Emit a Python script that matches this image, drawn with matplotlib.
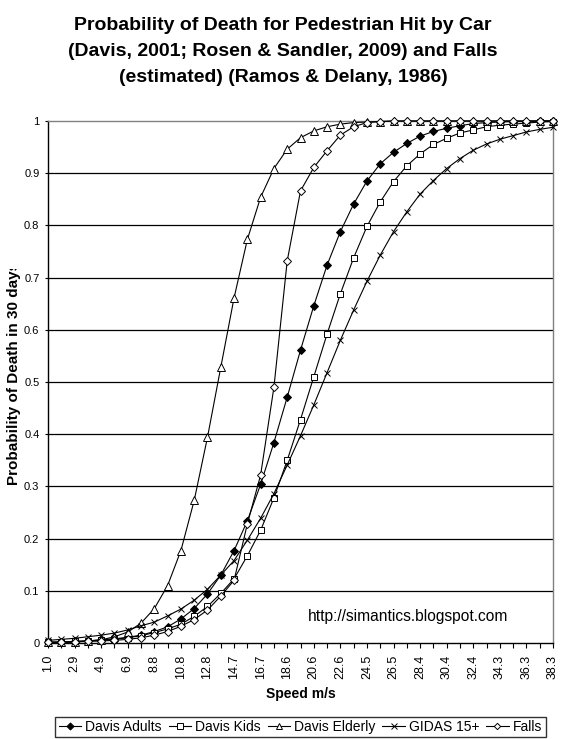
import matplotlib
matplotlib.use('Agg')
import matplotlib.pyplot as plt
from matplotlib.lines import Line2D
from matplotlib.transforms import Bbox

plt.rcParams['font.family'] = ['Liberation Sans', 'DejaVu Sans']

# ---------------- data ----------------
speed_labels = ["1.0", "2.0", "2.9", "3.9", "4.9", "5.9", "6.9", "7.8", "8.8", "9.8",
                "10.8", "11.8", "12.8", "13.7", "14.7", "15.7", "16.7", "17.7", "18.6", "19.6",
                "20.6", "21.6", "22.6", "23.5", "24.5", "25.5", "26.5", "27.5", "28.4", "29.4",
                "30.4", "31.4", "32.4", "33.3", "34.3", "35.3", "36.3", "37.3", "38.3"]

davis_adults = [0.002, 0.002, 0.003, 0.004, 0.006, 0.008, 0.011, 0.015, 0.022, 0.031,
                0.046, 0.066, 0.094, 0.130, 0.177, 0.234, 0.304, 0.384, 0.471, 0.561,
                0.646, 0.724, 0.788, 0.841, 0.885, 0.918, 0.940, 0.957, 0.971, 0.980,
                0.986, 0.991, 0.995, 0.997, 0.998, 0.999, 0.999, 1.000, 1.000]

davis_kids = [0.001, 0.002, 0.003, 0.004, 0.005, 0.007, 0.010, 0.014, 0.020, 0.027,
              0.036, 0.051, 0.070, 0.095, 0.123, 0.167, 0.216, 0.278, 0.350, 0.428,
              0.510, 0.592, 0.669, 0.738, 0.798, 0.845, 0.884, 0.914, 0.937, 0.955,
              0.967, 0.977, 0.983, 0.989, 0.992, 0.994, 0.996, 0.998, 0.999]

davis_elderly = [0.001, 0.001, 0.002, 0.004, 0.006, 0.012, 0.021, 0.038, 0.066, 0.110,
                 0.177, 0.273, 0.394, 0.528, 0.661, 0.773, 0.854, 0.909, 0.946, 0.968,
                 0.981, 0.989, 0.994, 0.997, 0.998, 0.999, 1.000, 1.000, 1.000, 1.000,
                 1.000, 1.000, 1.000, 1.000, 1.000, 1.000, 1.000, 1.000, 1.000]

gidas_15 = [0.005, 0.007, 0.009, 0.012, 0.015, 0.019, 0.025, 0.033, 0.040, 0.052,
            0.065, 0.082, 0.103, 0.130, 0.158, 0.197, 0.239, 0.286, 0.341, 0.397,
            0.456, 0.518, 0.580, 0.638, 0.693, 0.743, 0.788, 0.826, 0.860, 0.886,
            0.909, 0.928, 0.944, 0.956, 0.965, 0.972, 0.979, 0.984, 0.988]

falls = [0.001, 0.001, 0.002, 0.003, 0.004, 0.005, 0.007, 0.010, 0.015, 0.022,
         0.032, 0.045, 0.063, 0.090, 0.120, 0.228, 0.322, 0.490, 0.732, 0.866,
         0.911, 0.943, 0.973, 0.989, 0.997, 0.999, 1.000, 1.000, 1.000, 1.000,
         1.000, 1.000, 1.000, 1.000, 1.000, 1.000, 1.000, 1.000, 1.000]

series_names = ["Davis Adults", "Davis Kids", "Davis Elderly", "GIDAS 15+", "Falls"]
y_ticks = [0, 0.1, 0.2, 0.3, 0.4, 0.5, 0.6, 0.7, 0.8, 0.9, 1]
y_tick_labels = ["0", "0.1", "0.2", "0.3", "0.4", "0.5", "0.6", "0.7", "0.8", "0.9", "1"]

# ---------------- figure ----------------
W, H = 566, 739
fig = plt.figure(figsize=(W / 100, H / 100), dpi=100)
fig.patch.set_facecolor('white')

left, right, top, bottom = 48, 553, 121, 643
ax = fig.add_axes([left / W, 1 - bottom / H, (right - left) / W, (bottom - top) / H])

x = list(range(len(speed_labels)))

styles = [
    dict(marker='D', mfc='black', ms=4.2),
    dict(marker='s', mfc='white', ms=5.0),
    dict(marker='^', mfc='white', ms=5.5),
    dict(marker='x', mfc='black', ms=4.5),
    dict(marker='D', mfc='white', ms=3.8),
]
all_series = [davis_adults, davis_kids, davis_elderly, gidas_15, falls]

# gridlines (black) between 0 and 1
for yt in y_ticks[1:-1]:
    ax.axhline(yt, color='black', lw=0.9, zorder=1)

handles = []
for name, vals, st in zip(series_names, all_series, styles):
    ax.plot(x, vals, color='black', lw=0.8, marker=st['marker'], mfc=st['mfc'],
            mec='black', ms=st['ms'], mew=0.7, clip_on=False, zorder=3)
    handles.append(Line2D([], [], color='black', lw=0.8, marker=st['marker'],
                          mfc=st['mfc'], mec='black', ms=st['ms'] * 0.85, mew=0.7))

ax.set_xlim(0, len(speed_labels) - 1)
ax.set_ylim(0, 1)

ax.set_xticks(x)
ax.set_xticklabels([lab if i % 2 == 0 else "" for i, lab in enumerate(speed_labels)],
                   rotation=90, fontsize=9)
ax.set_yticks(y_ticks)
ax.set_yticklabels(y_tick_labels, fontsize=8)
ax.tick_params(axis='x', direction='out', length=3.6, width=0.8, pad=5, colors='black')
ax.tick_params(axis='y', direction='out', length=2.2, width=0.8, pad=4, colors='black')

for s in ['left', 'bottom']:
    ax.spines[s].set_color('black')
    ax.spines[s].set_linewidth(1.0)
for s in ['top', 'right']:
    ax.spines[s].set_color('#808080')
    ax.spines[s].set_linewidth(1.0)

# texts
fig.text(0.5, 1 - 17 / H,
         "Probability of Death for Pedestrian Hit by Car\n"
         "(Davis, 2001; Rosen & Sandler, 2009) and Falls\n"
         "(estimated) (Ramos & Delany, 1986)",
         ha='center', va='top', fontsize=14, fontweight='bold', linespacing=1.68)

fig.text(300.5 / W, 1 - 694 / H, "Speed m/s", ha='center', va='center',
         fontsize=10, fontweight='bold')
ylab = fig.text(14 / W, 1 - 373 / H, "Probability of Death in 30 days", ha='center',
                va='center', rotation=90, fontsize=11, fontweight='bold')
ylab.set_clip_box(Bbox.from_extents(0, 0, 40, H - 269))
ylab.set_clip_on(True)
fig.text(308 / W, 1 - 617 / H, "http://simantics.blogspot.com", ha='left',
         va='center', fontsize=11.2)

leg = fig.legend(handles, series_names, loc='center',
                 bbox_to_anchor=(300.5 / W, 1 - 727 / H), ncol=5, fontsize=10,
                 frameon=True, fancybox=False, edgecolor='black',
                 handlelength=1.6, handletextpad=0.3, columnspacing=0.5,
                 borderpad=0.25, borderaxespad=0)
leg.get_frame().set_linewidth(1.0)

fig.savefig('out.png', dpi=100, facecolor='white')
